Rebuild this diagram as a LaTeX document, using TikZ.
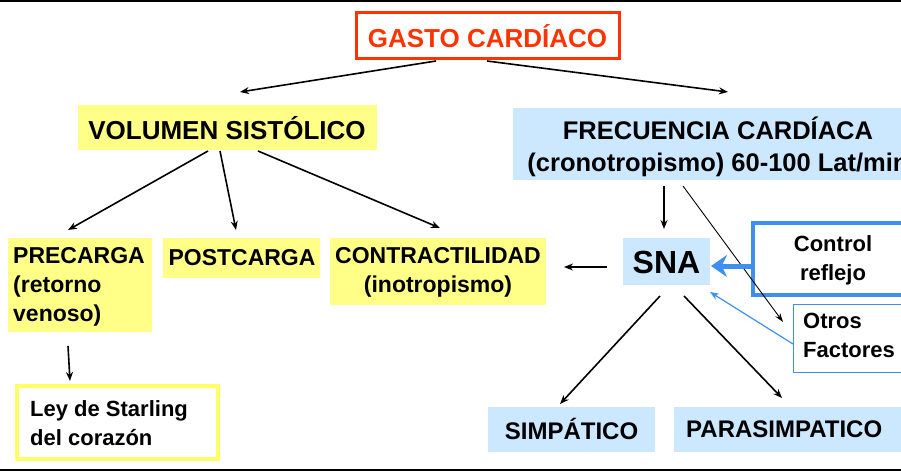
\documentclass[tikz,border=0pt]{standalone}
\usepackage{fontspec}
\setmainfont{Liberation Sans}
\usetikzlibrary{arrows.meta}
\definecolor{yel}{HTML}{FFFF88}
\definecolor{lb}{HTML}{CCE8FF}
\definecolor{bb}{HTML}{3D8FF0}
\definecolor{rd}{HTML}{FF3300}
\definecolor{ylb}{HTML}{FFFF66}
\begin{document}
\begin{tikzpicture}[x=1pt,y=-1pt,
 lbl/.style={font=\bfseries\fontsize{23}{27}\selectfont,align=center,inner sep=0pt},
 arr/.style={-{Stealth[length=9pt,width=7pt]},line width=1.6pt},
 tarr/.style={-{Stealth[length=9pt,width=6pt]},line width=0.9pt}]
\useasboundingbox (0,0) rectangle (901,473);
\draw[line width=2.5pt] (0,1) -- (901,1);
\draw[line width=1.5pt] (0,470) -- (901,470);
% boxes
\draw[rd,line width=3pt,fill=white] (356,13) rectangle (619,59);
\node[lbl,text=rd,font=\bfseries\fontsize{26}{30}\selectfont] (gc) at (487.5,36) {GASTO CARDÍACO};
\fill[yel] (78,105) rectangle (377,150);
\node[lbl,font=\bfseries\fontsize{26}{30}\selectfont] (vs) at (227,128) {VOLUMEN SISTÓLICO};
\fill[lb] (513,108) rectangle (901,180);
\node[lbl,font=\bfseries\fontsize{25.5}{32}\selectfont,anchor=north] (fc) at (718,117) {FRECUENCIA CARDÍACA\\(cronotropismo) 60-100 Lat/min};
\fill[yel] (8,238) rectangle (152,332);
\node[lbl,align=left,anchor=north west,font=\bfseries\fontsize{23}{29}\selectfont] (pre) at (13,247) {PRECARGA\\(retorno\\venoso)};
\fill[yel] (163,238) rectangle (320,278);
\node[lbl,font=\bfseries\fontsize{23}{27}\selectfont] (post) at (242,258) {POSTCARGA};
\fill[yel] (330,238) rectangle (546,305);
\node[lbl,font=\bfseries\fontsize{23}{29}\selectfont] (con) at (438,272) {CONTRACTILIDAD\\(inotropismo)};
\fill[lb] (623,238) rectangle (710,285);
\node[lbl,font=\bfseries\fontsize{32}{36}\selectfont] (sna) at (666.5,262) {SNA};
\draw[bb,line width=4pt,fill=white] (753,223) rectangle (906,295);
\node[lbl,font=\bfseries\fontsize{22}{29}\selectfont] (cr) at (833,260) {Control\\reflejo};
\draw[bb,line width=1pt,fill=white] (793,304) rectangle (906,372);
\node[lbl,align=left,anchor=north west,font=\bfseries\fontsize{22}{29}\selectfont] (ot) at (803,313) {Otros\\Factores};
\draw[ylb,line width=4pt,fill=white] (17,386) rectangle (218,459);
\node[lbl,align=left,anchor=north west,font=\bfseries\fontsize{22}{29}\selectfont] (ley) at (30,400) {Ley de Starling\\del corazón};
\fill[lb] (488,407) rectangle (655,452);
\node[lbl,font=\bfseries\fontsize{24}{28}\selectfont] (sim) at (571.5,429) {SIMPÁTICO};
\fill[lb] (674,407) rectangle (901,452);
\node[lbl,font=\bfseries\fontsize{24}{28}\selectfont,anchor=west] (par) at (686,429) {PARASIMPATICO};
% arrows
\coordinate (g1) at (436,61); \coordinate (g2) at (487,61);
\draw[arr] (g1) -- (240,92);
\draw[arr] (g2) -- (728,92);
\coordinate (v1) at (208,151); \coordinate (v2) at (220,151); \coordinate (v3) at (258,151);
\draw[arr] (v1) -- (68,230);
\draw[arr] (v2) -- (236,230);
\draw[arr] (v3) -- (440,228);
\coordinate (f1) at (664,186); \coordinate (f2) at (683,186);
\draw[arr] (f1) -- (664,229);
\draw[tarr] (f2) -- (783,322);
\coordinate (s0) at (607,267);
\draw[arr] (s0) -- (564,267);
\coordinate (c1) at (753,266);
\draw[bb,-{Stealth[length=16pt,width=22pt]},line width=5pt] (c1) -- (711,266);
\coordinate (o1) at (793,344);
\draw[bb,-{Stealth[length=9pt,width=7pt]},line width=1.2pt] (o1) -- (710,292);
\coordinate (s1) at (660,296); \coordinate (s2) at (684,296);
\draw[arr] (s1) -- (560,404);
\draw[arr] (s2) -- (782,398);
\coordinate (p1) at (68,346);
\draw[arr] (p1) -- (70,381);
\end{tikzpicture}
\end{document}
